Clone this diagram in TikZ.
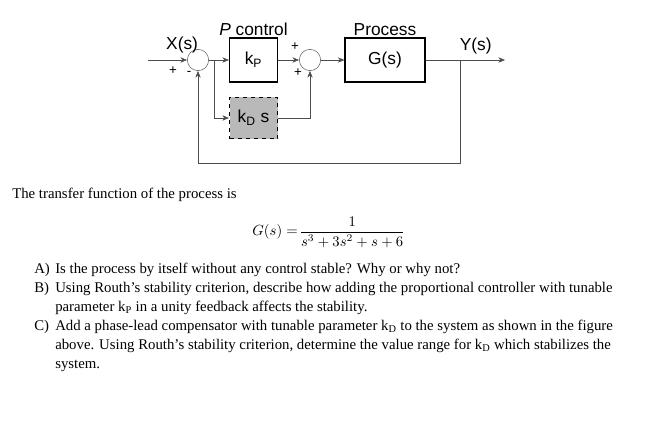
\documentclass[tikz,border=0pt]{standalone}
\usepackage{amsmath}
\usepackage{fontspec}
\setmainfont{Liberation Serif}
\newfontfamily\diagfont{Liberation Sans}
\usetikzlibrary{arrows.meta,positioning}
\begin{document}
\begin{tikzpicture}[x=0.75pt,y=-0.75pt,
        sum/.style={circle, draw, gray!70!black, minimum size=16pt, inner sep=0pt},
        blk/.style={rectangle, draw, thick, minimum width=36pt, minimum height=33pt, font=\diagfont\fontsize{13}{15}\selectfont},
        sig/.style={-{Stealth[length=5pt,width=4pt]}, gray!60!black},
        lbl/.style={font=\diagfont\fontsize{13}{15}\selectfont, inner sep=1pt},
        sgn/.style={font=\diagfont, inner sep=0pt},
        txt/.style={anchor=base west, inner sep=0pt, font=\fontsize{11.1}{13}\selectfont}
    ]
        \useasboundingbox (0,0) rectangle (671,425);
        % block diagram
        \coordinate (in) at (148,60);
        \node[sum] (s1) at (198,60) {};
        \node[blk] (kp) at (253.5,60) {k\textsubscript{P}};
        \node[blk, fill=gray!55, dashed, minimum width=36pt, minimum height=31pt] (kd) at (253.5,118) {k\textsubscript{D} s};
        \node[sum] (s2) at (310,60) {};
        \node[blk, minimum width=60pt] (g) at (385,60) {G(s)};
        \coordinate (out) at (505,60);
        \coordinate (tap) at (460,60);
        \coordinate (fork) at (214,60);
        \coordinate (low) at (198,163);

        \draw[sig] (in) -- (s1);
        \draw[sig] (s1) -- (kp);
        \draw[sig] (fork) |- (kd);
        \draw[sig] (kp) -- (s2);
        \draw[sig] (kd) -| (s2);
        \draw[sig] (s2) -- (g);
        \draw[sig] (g) -- (out);
        \draw[sig] (tap) |- (low) -- (s1);

        \node[lbl, above left=-2pt and -7pt of s1] (xs) {X(s)};
        \node[lbl, above=0pt of kp] (pc) {\textit{P} control};
        \node[lbl, above=0pt of g] (pr) {Process};
        \node[lbl, above=3pt of out, xshift=-22pt] (ys) {Y(s)};
        \node[sgn] (p1) at (173,71) {+};
        \node[sgn] (m1) at (189,73) {-};
        \node[sgn] (p2) at (295,47) {+};
        \node[sgn] (p3) at (298,73) {+};

        % problem text
        \node[txt] (t0) at (12,198) {The transfer function of the process is};
        \node[anchor=east, inner sep=0pt, scale=1.1] (eq) at (298,232) {$G(s)=$};
        \node[anchor=west, inner sep=0pt, scale=1.1] (fr) at (299,232) {$\dfrac{1}{s^3+3s^2+s+6}$};
        \node[txt] (la) at (34,273) {A)};
        \node[txt] (a1) at (55,273) {Is the process by itself without any control stable? Why or why not?};
        \node[txt] (lb) at (34,292) {B)};
        \node[txt] (b1) at (55,292) {Using Routh’s stability criterion, describe how adding the proportional controller with tunable};
        \node[txt] (b2) at (55,311) {parameter k\textsubscript{P} in a unity feedback affects the stability.};
        \node[txt] (lc) at (34,330) {C)};
        \node[txt] (c1) at (55,330) {Add a phase-lead compensator with tunable parameter k\textsubscript{D} to the system as shown in the figure};
        \node[txt] (c2) at (55,349) {above. Using Routh’s stability criterion, determine the value range for k\textsubscript{D} which stabilizes the};
        \node[txt] (c3) at (55,368) {system.};
\end{tikzpicture}
\end{document}
